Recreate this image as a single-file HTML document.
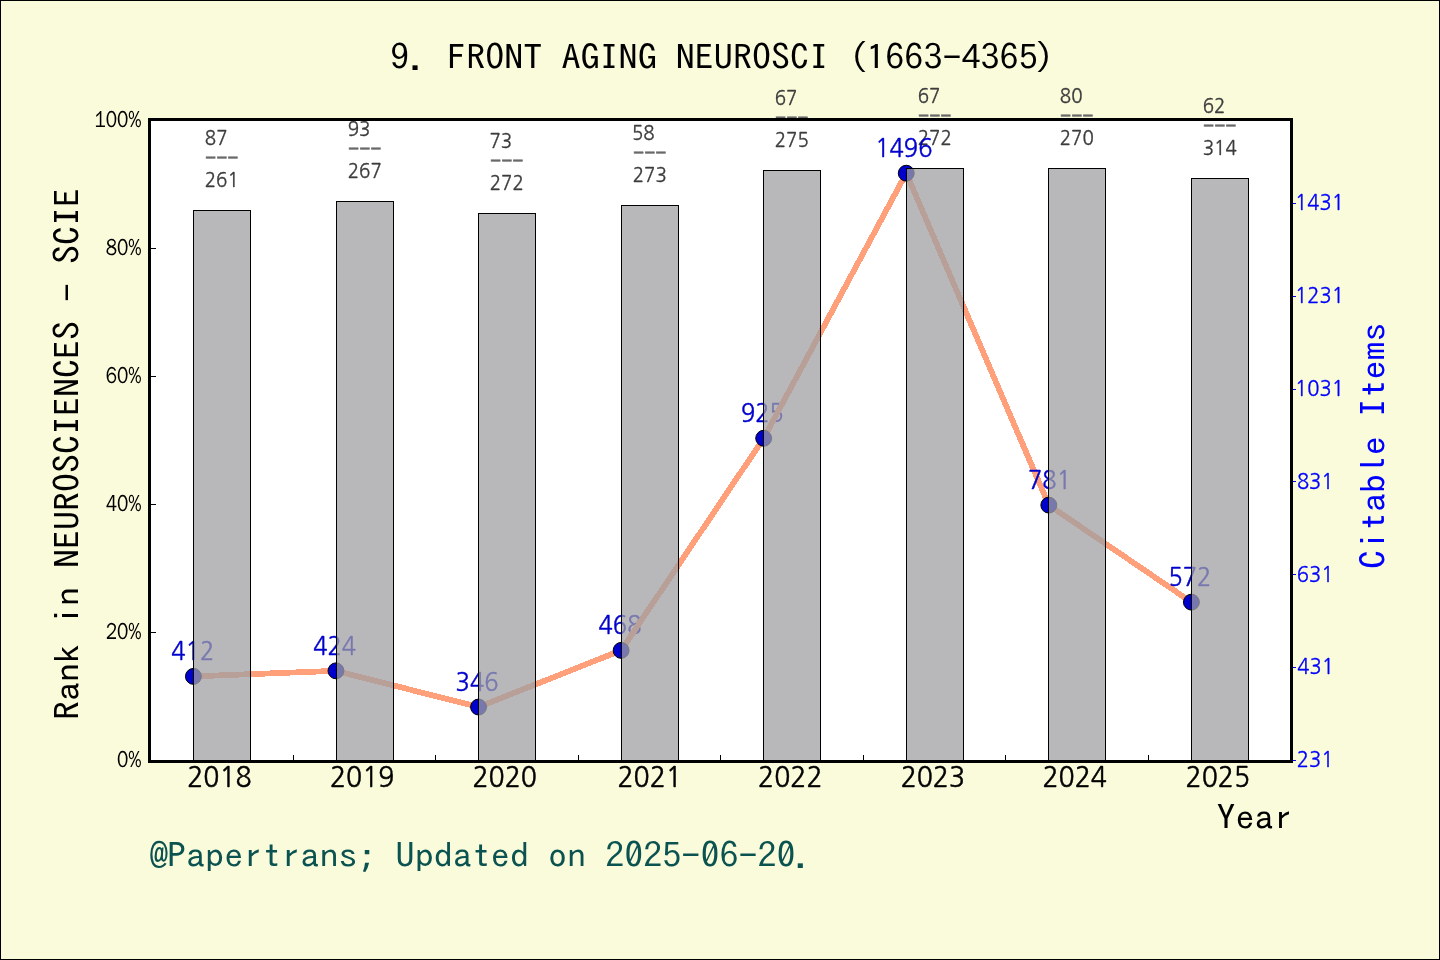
<!DOCTYPE html>
<html><head><meta charset="utf-8"><title>9. FRONT AGING NEUROSCI (1663-4365)</title>
<style>
html,body{margin:0;padding:0;background:#FAFBDA;}
body{width:1440px;height:960px;overflow:hidden;}
svg{display:block;will-change:transform;}
</style></head>
<body>
<svg width="1440" height="960" viewBox="0 0 1440 960">
<rect x="0" y="0" width="1440" height="960" fill="#FAFBDA"/>
<rect x="0.5" y="0.5" width="1439" height="959" fill="none" stroke="#000" stroke-width="1"/>
<rect x="149.5" y="119.5" width="1142" height="642" fill="#fff"/>
<text transform="translate(204.86,144.61) scale(0.9750,1)" font-family="NanumGothic, 'Liberation Sans', sans-serif" font-size="19.22" fill="#3c3c3c" stroke="#3c3c3c" stroke-width="0.35">87</text>
<text transform="translate(204.90,165.46) scale(1.1300,1)" font-family="IPAGothic, 'WenQuanYi Zen Hei Mono', monospace" font-size="19.9" fill="#6a6a6a" stroke="#6a6a6a" stroke-width="0.5">---</text>
<text transform="translate(204.68,186.71) scale(0.9750,1)" font-family="NanumGothic, 'Liberation Sans', sans-serif" font-size="19.22" fill="#3c3c3c" stroke="#3c3c3c" stroke-width="0.35">261</text>
<text transform="translate(347.68,135.61) scale(0.9750,1)" font-family="NanumGothic, 'Liberation Sans', sans-serif" font-size="19.22" fill="#3c3c3c" stroke="#3c3c3c" stroke-width="0.35">93</text>
<text transform="translate(347.90,156.46) scale(1.1300,1)" font-family="IPAGothic, 'WenQuanYi Zen Hei Mono', monospace" font-size="19.9" fill="#6a6a6a" stroke="#6a6a6a" stroke-width="0.5">---</text>
<text transform="translate(347.68,177.71) scale(0.9750,1)" font-family="NanumGothic, 'Liberation Sans', sans-serif" font-size="19.22" fill="#3c3c3c" stroke="#3c3c3c" stroke-width="0.35">267</text>
<text transform="translate(489.49,147.61) scale(0.9750,1)" font-family="NanumGothic, 'Liberation Sans', sans-serif" font-size="19.22" fill="#3c3c3c" stroke="#3c3c3c" stroke-width="0.35">73</text>
<text transform="translate(489.90,168.46) scale(1.1300,1)" font-family="IPAGothic, 'WenQuanYi Zen Hei Mono', monospace" font-size="19.9" fill="#6a6a6a" stroke="#6a6a6a" stroke-width="0.5">---</text>
<text transform="translate(489.68,189.90) scale(0.9750,1)" font-family="NanumGothic, 'Liberation Sans', sans-serif" font-size="19.22" fill="#3c3c3c" stroke="#3c3c3c" stroke-width="0.35">272</text>
<text transform="translate(631.93,139.61) scale(0.9750,1)" font-family="NanumGothic, 'Liberation Sans', sans-serif" font-size="19.22" fill="#3c3c3c" stroke="#3c3c3c" stroke-width="0.35">58</text>
<text transform="translate(632.90,160.46) scale(1.1300,1)" font-family="IPAGothic, 'WenQuanYi Zen Hei Mono', monospace" font-size="19.9" fill="#6a6a6a" stroke="#6a6a6a" stroke-width="0.5">---</text>
<text transform="translate(632.68,181.71) scale(0.9750,1)" font-family="NanumGothic, 'Liberation Sans', sans-serif" font-size="19.22" fill="#3c3c3c" stroke="#3c3c3c" stroke-width="0.35">273</text>
<text transform="translate(774.68,104.61) scale(0.9750,1)" font-family="NanumGothic, 'Liberation Sans', sans-serif" font-size="19.22" fill="#3c3c3c" stroke="#3c3c3c" stroke-width="0.35">67</text>
<text transform="translate(774.90,125.46) scale(1.1300,1)" font-family="IPAGothic, 'WenQuanYi Zen Hei Mono', monospace" font-size="19.9" fill="#6a6a6a" stroke="#6a6a6a" stroke-width="0.5">---</text>
<text transform="translate(774.68,146.71) scale(0.9750,1)" font-family="NanumGothic, 'Liberation Sans', sans-serif" font-size="19.22" fill="#3c3c3c" stroke="#3c3c3c" stroke-width="0.35">275</text>
<text transform="translate(917.68,102.61) scale(0.9750,1)" font-family="NanumGothic, 'Liberation Sans', sans-serif" font-size="19.22" fill="#3c3c3c" stroke="#3c3c3c" stroke-width="0.35">67</text>
<text transform="translate(917.90,123.46) scale(1.1300,1)" font-family="IPAGothic, 'WenQuanYi Zen Hei Mono', monospace" font-size="19.9" fill="#6a6a6a" stroke="#6a6a6a" stroke-width="0.5">---</text>
<text transform="translate(917.68,144.90) scale(0.9750,1)" font-family="NanumGothic, 'Liberation Sans', sans-serif" font-size="19.22" fill="#3c3c3c" stroke="#3c3c3c" stroke-width="0.35">272</text>
<text transform="translate(1059.86,102.61) scale(0.9750,1)" font-family="NanumGothic, 'Liberation Sans', sans-serif" font-size="19.22" fill="#3c3c3c" stroke="#3c3c3c" stroke-width="0.35">80</text>
<text transform="translate(1059.90,123.46) scale(1.1300,1)" font-family="IPAGothic, 'WenQuanYi Zen Hei Mono', monospace" font-size="19.9" fill="#6a6a6a" stroke="#6a6a6a" stroke-width="0.5">---</text>
<text transform="translate(1059.68,144.71) scale(0.9750,1)" font-family="NanumGothic, 'Liberation Sans', sans-serif" font-size="19.22" fill="#3c3c3c" stroke="#3c3c3c" stroke-width="0.35">270</text>
<text transform="translate(1202.68,112.80) scale(0.9750,1)" font-family="NanumGothic, 'Liberation Sans', sans-serif" font-size="19.22" fill="#3c3c3c" stroke="#3c3c3c" stroke-width="0.35">62</text>
<text transform="translate(1202.90,133.46) scale(1.1300,1)" font-family="IPAGothic, 'WenQuanYi Zen Hei Mono', monospace" font-size="19.9" fill="#6a6a6a" stroke="#6a6a6a" stroke-width="0.5">---</text>
<text transform="translate(1202.68,154.71) scale(0.9750,1)" font-family="NanumGothic, 'Liberation Sans', sans-serif" font-size="19.22" fill="#3c3c3c" stroke="#3c3c3c" stroke-width="0.35">314</text>
<text transform="translate(171.29,660.35) scale(0.9600,1)" font-family="NanumGothic, 'Liberation Sans', sans-serif" font-size="24.6" fill="#0000CD" stroke="#0000CD" stroke-width="0.45">412</text>
<line x1="193.40" y1="676.40" x2="335.97" y2="670.83" stroke="#FFA07A" stroke-width="5.8" shape-rendering="crispEdges"/>
<text transform="translate(313.16,654.78) scale(0.9600,1)" font-family="NanumGothic, 'Liberation Sans', sans-serif" font-size="24.6" fill="#0000CD" stroke="#0000CD" stroke-width="0.45">424</text>
<line x1="335.97" y1="670.83" x2="478.54" y2="707.04" stroke="#FFA07A" stroke-width="5.8" shape-rendering="crispEdges"/>
<text transform="translate(455.61,690.99) scale(0.9600,1)" font-family="NanumGothic, 'Liberation Sans', sans-serif" font-size="24.6" fill="#0000CD" stroke="#0000CD" stroke-width="0.45">346</text>
<line x1="478.54" y1="707.04" x2="621.11" y2="650.40" stroke="#FFA07A" stroke-width="5.8" shape-rendering="crispEdges"/>
<text transform="translate(598.53,634.36) scale(0.9600,1)" font-family="NanumGothic, 'Liberation Sans', sans-serif" font-size="24.6" fill="#0000CD" stroke="#0000CD" stroke-width="0.45">468</text>
<line x1="621.11" y1="650.40" x2="763.68" y2="438.26" stroke="#FFA07A" stroke-width="5.8" shape-rendering="crispEdges"/>
<text transform="translate(740.98,422.21) scale(0.9600,1)" font-family="NanumGothic, 'Liberation Sans', sans-serif" font-size="24.6" fill="#0000CD" stroke="#0000CD" stroke-width="0.45">925</text>
<line x1="763.68" y1="438.26" x2="906.25" y2="173.20" stroke="#FFA07A" stroke-width="5.8" shape-rendering="crispEdges"/>
<text transform="translate(875.22,157.15) scale(0.9600,1)" font-family="NanumGothic, 'Liberation Sans', sans-serif" font-size="24.6" fill="#0000CD" stroke="#0000CD" stroke-width="0.45">1496</text>
<line x1="906.25" y1="173.20" x2="1048.82" y2="505.11" stroke="#FFA07A" stroke-width="5.8" shape-rendering="crispEdges"/>
<text transform="translate(1028.01,489.06) scale(0.9600,1)" font-family="NanumGothic, 'Liberation Sans', sans-serif" font-size="24.6" fill="#0000CD" stroke="#0000CD" stroke-width="0.45">781</text>
<line x1="1048.82" y1="505.11" x2="1191.39" y2="602.13" stroke="#FFA07A" stroke-width="5.8" shape-rendering="crispEdges"/>
<text transform="translate(1168.46,586.08) scale(0.9600,1)" font-family="NanumGothic, 'Liberation Sans', sans-serif" font-size="24.6" fill="#0000CD" stroke="#0000CD" stroke-width="0.45">572</text>
<circle cx="193.40" cy="676.40" r="7.95" fill="#0000CD" stroke="#000" stroke-width="1"/>
<circle cx="335.97" cy="670.83" r="7.95" fill="#0000CD" stroke="#000" stroke-width="1"/>
<circle cx="478.54" cy="707.04" r="7.95" fill="#0000CD" stroke="#000" stroke-width="1"/>
<circle cx="621.11" cy="650.40" r="7.95" fill="#0000CD" stroke="#000" stroke-width="1"/>
<circle cx="763.68" cy="438.26" r="7.95" fill="#0000CD" stroke="#000" stroke-width="1"/>
<circle cx="906.25" cy="173.20" r="7.95" fill="#0000CD" stroke="#000" stroke-width="1"/>
<circle cx="1048.82" cy="505.11" r="7.95" fill="#0000CD" stroke="#000" stroke-width="1"/>
<circle cx="1191.39" cy="602.13" r="7.95" fill="#0000CD" stroke="#000" stroke-width="1"/>
<rect x="193.5" y="210.5" width="57" height="551.0" fill="#A0A0A4" fill-opacity="0.75" stroke="#000" stroke-width="1"/>
<rect x="336.5" y="201.5" width="57" height="560.0" fill="#A0A0A4" fill-opacity="0.75" stroke="#000" stroke-width="1"/>
<rect x="478.5" y="213.5" width="57" height="548.0" fill="#A0A0A4" fill-opacity="0.75" stroke="#000" stroke-width="1"/>
<rect x="621.5" y="205.5" width="57" height="556.0" fill="#A0A0A4" fill-opacity="0.75" stroke="#000" stroke-width="1"/>
<rect x="763.5" y="170.5" width="57" height="591.0" fill="#A0A0A4" fill-opacity="0.75" stroke="#000" stroke-width="1"/>
<rect x="906.5" y="168.5" width="57" height="593.0" fill="#A0A0A4" fill-opacity="0.75" stroke="#000" stroke-width="1"/>
<rect x="1048.5" y="168.5" width="57" height="593.0" fill="#A0A0A4" fill-opacity="0.75" stroke="#000" stroke-width="1"/>
<rect x="1191.5" y="178.5" width="57" height="583.0" fill="#A0A0A4" fill-opacity="0.75" stroke="#000" stroke-width="1"/>
<line x1="151" y1="248.5" x2="156" y2="248.5" stroke="#000" stroke-width="1"/>
<line x1="151" y1="376.5" x2="156" y2="376.5" stroke="#000" stroke-width="1"/>
<line x1="151" y1="504.5" x2="156" y2="504.5" stroke="#000" stroke-width="1"/>
<line x1="151" y1="632.5" x2="156" y2="632.5" stroke="#000" stroke-width="1"/>
<line x1="1293" y1="760.5" x2="1296" y2="760.5" stroke="#0000FF" stroke-width="1"/>
<line x1="1293" y1="667.5" x2="1296" y2="667.5" stroke="#0000FF" stroke-width="1"/>
<line x1="1293" y1="574.5" x2="1296" y2="574.5" stroke="#0000FF" stroke-width="1"/>
<line x1="1293" y1="481.5" x2="1296" y2="481.5" stroke="#0000FF" stroke-width="1"/>
<line x1="1293" y1="389.5" x2="1296" y2="389.5" stroke="#0000FF" stroke-width="1"/>
<line x1="1293" y1="296.5" x2="1296" y2="296.5" stroke="#0000FF" stroke-width="1"/>
<line x1="1293" y1="203.5" x2="1296" y2="203.5" stroke="#0000FF" stroke-width="1"/>
<line x1="293.5" y1="755" x2="293.5" y2="760" stroke="#000" stroke-width="1"/>
<line x1="435.5" y1="755" x2="435.5" y2="760" stroke="#000" stroke-width="1"/>
<line x1="578.5" y1="755" x2="578.5" y2="760" stroke="#000" stroke-width="1"/>
<line x1="720.5" y1="755" x2="720.5" y2="760" stroke="#000" stroke-width="1"/>
<line x1="863.5" y1="755" x2="863.5" y2="760" stroke="#000" stroke-width="1"/>
<line x1="1005.5" y1="755" x2="1005.5" y2="760" stroke="#000" stroke-width="1"/>
<line x1="1148.5" y1="755" x2="1148.5" y2="760" stroke="#000" stroke-width="1"/>
<rect x="149.5" y="119.5" width="1142" height="642" fill="none" stroke="#000" stroke-width="3"/>
<text transform="translate(187.25,787.02) scale(0.9480,1)" font-family="NanumGothic, 'Liberation Sans', sans-serif" font-size="28.08" fill="#000" stroke="#000" stroke-width="0.5">2018</text>
<text transform="translate(329.95,787.02) scale(0.9480,1)" font-family="NanumGothic, 'Liberation Sans', sans-serif" font-size="28.08" fill="#000" stroke="#000" stroke-width="0.5">2019</text>
<text transform="translate(472.39,787.02) scale(0.9480,1)" font-family="NanumGothic, 'Liberation Sans', sans-serif" font-size="28.08" fill="#000" stroke="#000" stroke-width="0.5">2020</text>
<text transform="translate(617.49,787.02) scale(0.9480,1)" font-family="NanumGothic, 'Liberation Sans', sans-serif" font-size="28.08" fill="#000" stroke="#000" stroke-width="0.5">2021</text>
<text transform="translate(758.06,787.02) scale(0.9480,1)" font-family="NanumGothic, 'Liberation Sans', sans-serif" font-size="28.08" fill="#000" stroke="#000" stroke-width="0.5">2022</text>
<text transform="translate(900.63,787.02) scale(0.9480,1)" font-family="NanumGothic, 'Liberation Sans', sans-serif" font-size="28.08" fill="#000" stroke="#000" stroke-width="0.5">2023</text>
<text transform="translate(1042.40,787.02) scale(0.9480,1)" font-family="NanumGothic, 'Liberation Sans', sans-serif" font-size="28.08" fill="#000" stroke="#000" stroke-width="0.5">2024</text>
<text transform="translate(1185.51,787.02) scale(0.9480,1)" font-family="NanumGothic, 'Liberation Sans', sans-serif" font-size="28.08" fill="#000" stroke="#000" stroke-width="0.5">2025</text>
<text transform="translate(117.05,767.32) scale(0.8120,1)" font-family="'WenQuanYi Zen Hei', 'Liberation Sans', sans-serif" font-size="23.24" fill="#000">0%</text>
<text transform="translate(105.74,639.22) scale(0.8120,1)" font-family="'WenQuanYi Zen Hei', 'Liberation Sans', sans-serif" font-size="23.24" fill="#000">20%</text>
<text transform="translate(105.74,511.12) scale(0.8120,1)" font-family="'WenQuanYi Zen Hei', 'Liberation Sans', sans-serif" font-size="23.24" fill="#000">40%</text>
<text transform="translate(105.74,383.02) scale(0.8120,1)" font-family="'WenQuanYi Zen Hei', 'Liberation Sans', sans-serif" font-size="23.24" fill="#000">60%</text>
<text transform="translate(105.74,254.92) scale(0.8120,1)" font-family="'WenQuanYi Zen Hei', 'Liberation Sans', sans-serif" font-size="23.24" fill="#000">80%</text>
<text transform="translate(94.42,126.82) scale(0.8120,1)" font-family="'WenQuanYi Zen Hei', 'Liberation Sans', sans-serif" font-size="23.24" fill="#000">100%</text>
<text transform="translate(1296.69,767.41) scale(0.9370,1)" font-family="NanumGothic, 'Liberation Sans', sans-serif" font-size="21.55" fill="#0000FF" stroke="#0000FF" stroke-width="0.35">231</text>
<text transform="translate(1297.29,674.46) scale(0.9370,1)" font-family="NanumGothic, 'Liberation Sans', sans-serif" font-size="21.55" fill="#0000FF" stroke="#0000FF" stroke-width="0.35">431</text>
<text transform="translate(1296.69,581.62) scale(0.9370,1)" font-family="NanumGothic, 'Liberation Sans', sans-serif" font-size="21.55" fill="#0000FF" stroke="#0000FF" stroke-width="0.35">631</text>
<text transform="translate(1296.89,488.78) scale(0.9370,1)" font-family="NanumGothic, 'Liberation Sans', sans-serif" font-size="21.55" fill="#0000FF" stroke="#0000FF" stroke-width="0.35">831</text>
<text transform="translate(1295.07,395.94) scale(0.9370,1)" font-family="NanumGothic, 'Liberation Sans', sans-serif" font-size="21.55" fill="#0000FF" stroke="#0000FF" stroke-width="0.35">1031</text>
<text transform="translate(1295.07,303.20) scale(0.9370,1)" font-family="NanumGothic, 'Liberation Sans', sans-serif" font-size="21.55" fill="#0000FF" stroke="#0000FF" stroke-width="0.35">1231</text>
<text transform="translate(1295.07,210.25) scale(0.9370,1)" font-family="NanumGothic, 'Liberation Sans', sans-serif" font-size="21.55" fill="#0000FF" stroke="#0000FF" stroke-width="0.35">1431</text>
<text transform="translate(0,69.70) scale(1.1012,1)" x="354.17 371.47 388.77 406.07 423.37 440.67 457.97 475.27 492.57 509.87 527.17 544.47 561.77 579.07 596.37 613.67 630.97 648.27 665.57 682.87 700.17 717.47 734.77 752.07 771.19 786.67 803.97 821.27 838.57 855.87 873.17 890.47 907.77 925.07 939.65" y="0" font-family="IPAGothic, 'WenQuanYi Zen Hei Mono', monospace" font-size="34.6" fill="#000">9. FRONT AGING NEUROSCI (1663-4365)</text>
<text transform="translate(0,868.00) scale(1.1012,1)" x="135.81 151.66 168.96 186.26 203.56 220.86 238.16 255.46 272.76 290.06 307.36 324.66 341.96 359.26 376.56 393.86 411.16 428.46 445.76 463.06 480.36 497.66 514.96 532.26 549.56 566.86 584.16 601.46 618.76 636.06 653.36 670.66 687.96 705.26 721.20" y="0" font-family="IPAGothic, 'WenQuanYi Zen Hei Mono', monospace" font-size="34.6" fill="#0B5351">@Papertrans; Updated on 2025-06-20.</text>
<text transform="translate(0,830.00) scale(1.0983,1)" x="1107.56 1124.86 1142.16 1159.46" y="0" font-family="IPAGothic, 'WenQuanYi Zen Hei Mono', monospace" font-size="34.6" fill="#000">Year</text>
<text transform="translate(79.80,720.00) rotate(-90) scale(1.0983,1)" x="0.00 17.30 34.60 51.90 69.20 86.50 103.80 121.10 138.40 155.70 173.00 190.30 207.60 224.90 242.20 259.50 276.80 294.10 311.40 328.70 346.00 363.30 380.60 397.90 415.20 432.50 449.80 467.10" y="0" font-family="IPAGothic, 'WenQuanYi Zen Hei Mono', monospace" font-size="34.6" fill="#000">Rank in NEUROSCIENCES - SCIE</text>
<text transform="translate(1385.70,568.90) rotate(-90) scale(1.0954,1)" x="0.00 17.30 34.60 51.90 69.20 86.50 103.80 121.10 138.40 155.70 173.00 190.30 207.60" y="0" font-family="IPAGothic, 'WenQuanYi Zen Hei Mono', monospace" font-size="34.6" fill="#0000FF">Citable Items</text>
</svg>
</body></html>
